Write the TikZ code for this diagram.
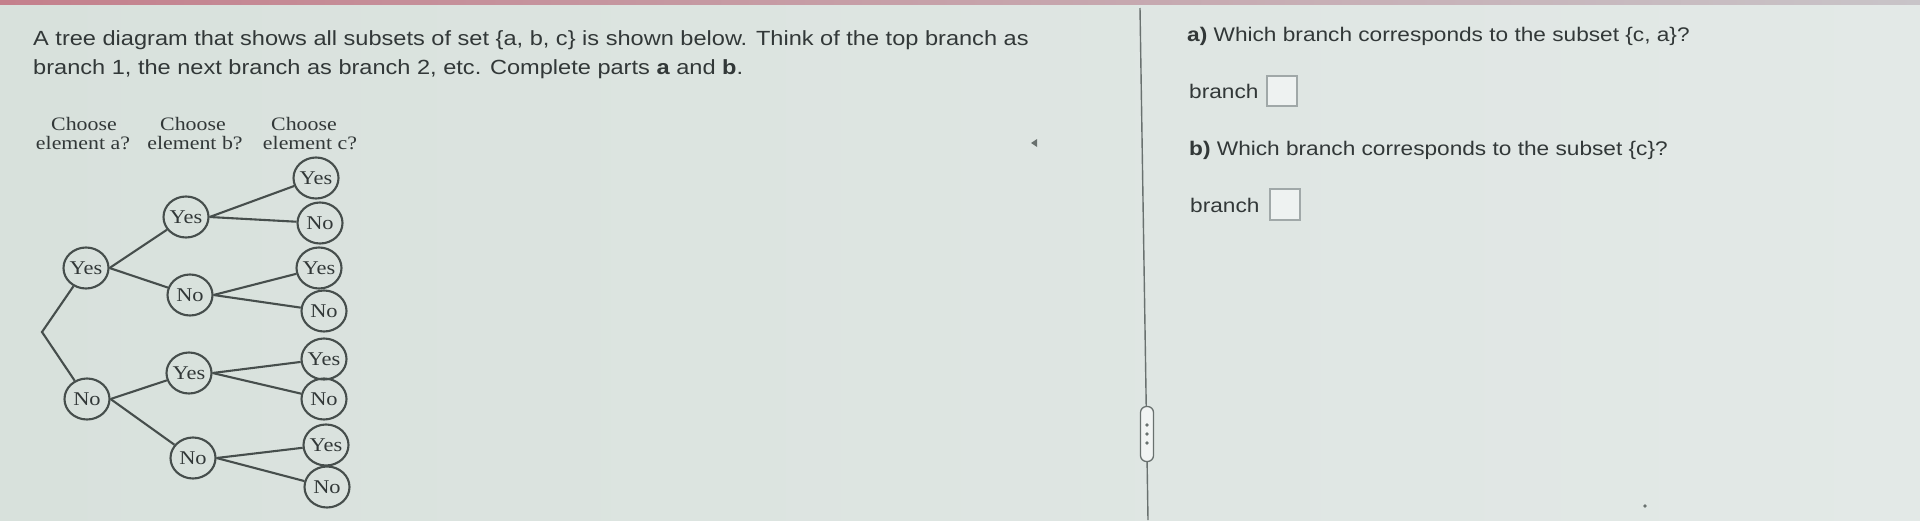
\documentclass[tikz,border=0pt]{standalone}
\usepackage{fontspec}
\setmainfont{Liberation Serif}[FakeStretch=1.15]
\newfontfamily\uisans{Liberation Sans}[FakeStretch=1.15]
\usetikzlibrary{shapes.geometric}
\definecolor{bgl}{RGB}{216,225,220}
\definecolor{bgr}{RGB}{227,233,231}
\definecolor{barl}{RGB}{196,128,140}
\definecolor{barr}{RGB}{200,196,200}
\definecolor{textc}{RGB}{50,56,56}
\definecolor{linec}{RGB}{70,78,76}
\definecolor{boxc}{RGB}{160,168,168}
\definecolor{divc}{RGB}{105,113,111}
\tikzset{
  tnode/.style={ellipse, draw=linec, line width=2.1pt, minimum width=45pt, minimum height=41pt,
    inner sep=0pt, text=textc, font=\fontsize{19.5}{19.5}\selectfont},
  edge/.style={draw=linec, line width=2.1pt},
  head/.style={anchor=base, inner sep=0pt, text=textc, font=\fontsize{19}{19}\selectfont},
  para/.style={anchor=base west, inner sep=0pt, text=textc, font=\uisans\fontsize{20.5}{30}\selectfont},
  qtext/.style={anchor=base west, inner sep=0pt, text=textc, font=\uisans\fontsize{19.7}{26}\selectfont},
  ansbox/.style={draw=boxc, line width=1.2pt, fill=white!40!bgr},
}
\begin{document}
\begin{tikzpicture}[x=1pt,y=-1pt]
\useasboundingbox (0,0) rectangle (1920,520);
% background
\fill[left color=bgl, right color=bgr] (0,0) rectangle (1920,520);
\fill[left color=barl, right color=barr] (0,0) rectangle (1920,4);
% problem text
\node[para] (p1) at (33,45) {A tree diagram that shows all subsets of set \{a, b, c\} is shown below. Think of the top branch as};
\node[para] (p2) at (33,74) {branch 1, the next branch as branch 2, etc. Complete parts \textbf{a} and \textbf{b}.};
% headers
\node[head] (h1a) at (84,130) {Choose};
\node[head] (h1b) at (83,149) {element a?};
\node[head] (h2a) at (193,130) {Choose};
\node[head] (h2b) at (195,149) {element b?};
\node[head] (h3a) at (304,130) {Choose};
\node[head] (h3b) at (310,149) {element c?};
% tree nodes
\coordinate (r) at (42,332);
\node[tnode] (a1) at (86,268) {\makebox[0pt]{Yes}};
\node[tnode] (a0) at (87,399) {\makebox[0pt]{No}};
\node[tnode] (b11) at (186,217) {\makebox[0pt]{Yes}};
\node[tnode] (b10) at (190,295) {\makebox[0pt]{No}};
\node[tnode] (b01) at (189,373) {\makebox[0pt]{Yes}};
\node[tnode] (b00) at (193,458) {\makebox[0pt]{No}};
\node[tnode] (c111) at (316,178) {\makebox[0pt]{Yes}};
\node[tnode] (c110) at (320,223) {\makebox[0pt]{No}};
\node[tnode] (c101) at (319,268) {\makebox[0pt]{Yes}};
\node[tnode] (c100) at (324,311) {\makebox[0pt]{No}};
\node[tnode] (c011) at (324,359) {\makebox[0pt]{Yes}};
\node[tnode] (c010) at (324,399) {\makebox[0pt]{No}};
\node[tnode] (c001) at (326,445) {\makebox[0pt]{Yes}};
\node[tnode] (c000) at (327,487) {\makebox[0pt]{No}};
% edges
\draw[edge] (a1) -- (r) -- (a0);
\draw[edge] (a1.east) -- (b11);
\draw[edge] (a1.east) -- (b10);
\draw[edge] (a0.east) -- (b01);
\draw[edge] (a0.east) -- (b00);
\draw[edge] (b11.east) -- (c111);
\draw[edge] (b11.east) -- (c110);
\draw[edge] (b10.east) -- (c101);
\draw[edge] (b10.east) -- (c100);
\draw[edge] (b01.east) -- (c011);
\draw[edge] (b01.east) -- (c010);
\draw[edge] (b00.east) -- (c001);
\draw[edge] (b00.east) -- (c000);
% specks
\fill[divc] (1031,143) -- (1037,139) -- (1037,147) -- cycle;
\fill[divc] (1645,506) circle (1.8);
% divider
\coordinate (dtop) at (1140,8);
\coordinate (dbot) at (1148,520);
\draw[divc, line width=1.4pt] (dtop) -- (dbot);
\node[draw=divc, fill=white!50!bgr, line width=1.3pt, rounded corners=6pt, minimum width=13pt, minimum height=55pt, inner sep=0pt] (handle) at (1147,434) {};
\fill[divc] (1147,425) circle (1.8) (1147,434) circle (1.8) (1147,443) circle (1.8);
% questions
\node[qtext] (qa) at (1187,41) {\textbf{a)} Which branch corresponds to the subset \{c, a\}?};
\node[qtext] (la) at (1189,98) {branch};
\draw[ansbox] (1267,76) rectangle (1297,106);
\node[qtext] (qb) at (1189,155) {\textbf{b)} Which branch corresponds to the subset \{c\}?};
\node[qtext] (lb) at (1190,212) {branch};
\draw[ansbox] (1270,189) rectangle (1300,220);
\end{tikzpicture}
\end{document}
